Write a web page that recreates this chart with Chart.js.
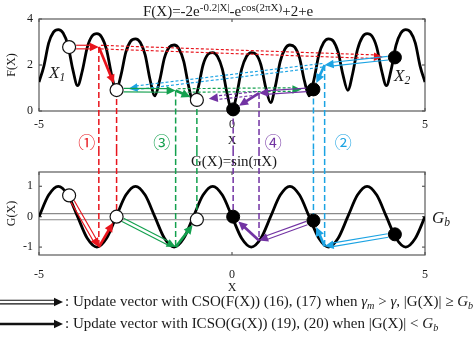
<!DOCTYPE html>
<html>
<head>
<meta charset="utf-8">
<script src="https://cdn.jsdelivr.net/npm/chart.js@4.4.1/dist/chart.umd.min.js"></script>
<style>
  body { margin: 0; background: #fff; }
  #wrap { position: relative; width: 474px; height: 338px; overflow: hidden; font-family: 'Liberation Serif', serif; color: #1a1a1a; }
  canvas { position: absolute; left: 0; }
  #topCv { top: 0; }
  #botCv { top: 150px; }
  .txt { position: absolute; white-space: nowrap; line-height: 1; }
  .txt sup { font-size: 11px; vertical-align: 0.5em; line-height: 0; }
  .txt sub { font-size: 0.68em; vertical-align: -0.3em; line-height: 0; }
  .m { font-style: italic; }
</style>
</head>
<body>
<div id="wrap">
  <canvas id="topCv" width="474" height="150"></canvas>
  <canvas id="botCv" width="474" height="188"></canvas>
  <div class="txt" style="left:143px;top:4px;font-size:15px">F(X)=-2e<sup>-0.2|X|</sup>-e<sup>cos(2πX)</sup>+2+e</div>
  <div class="txt m" style="left:49px;top:64px;font-size:17px">X<sub>1</sub></div>
  <div class="txt m" style="left:394px;top:67px;font-size:17px">X<sub>2</sub></div>
  <div class="txt" style="left:191px;top:154px;font-size:15px">G(X)=sin(πX)</div>
  <div class="txt m" style="left:432px;top:209px;font-size:17px">G<sub>b</sub></div>
  <div class="txt" style="left:65px;top:294px;font-size:15px">: Update vector with CSO(F(X)) (16), (17) when <span class="m">γ<sub>m</sub></span> &gt; <span class="m">γ</span>, |G(X)| ≥ <span class="m">G<sub>b</sub></span></div>
  <div class="txt" style="left:65px;top:316px;font-size:15px">: Update vector with ICSO(G(X)) (19), (20) when |G(X)| &lt; <span class="m">G<sub>b</sub></span></div>
</div>
<script>
// --- curve samples ---
const fX = [-5, -4.875, -4.75, -4.625, -4.5, -4.375, -4.25, -4.125, -4, -3.875, -3.75, -3.625, -3.5, -3.375, -3.25, -3.125,
  -3, -2.875, -2.75, -2.625, -2.5, -2.375, -2.25, -2.125, -2, -1.875, -1.75, -1.625, -1.5, -1.375, -1.25, -1.125,
  -1, -0.875, -0.75, -0.625, -0.5, -0.375, -0.25, -0.125, 0, 0.125, 0.25, 0.375, 0.5, 0.625, 0.75, 0.875,
  1, 1.125, 1.25, 1.375, 1.5, 1.625, 1.75, 1.875, 2, 2.125, 2.25, 2.375, 2.5, 2.625, 2.75, 2.875,
  3, 3.125, 3.25, 3.375, 3.5, 3.625, 3.75, 3.875, 4, 4.125, 4.25, 4.375, 4.5, 4.625, 4.75, 4.875, 5];
const fY = [1.26, 1.94, 2.95, 3.43, 3.54, 3.39, 2.86, 1.81, 1.10, 1.77, 2.77, 3.26, 3.36, 3.21, 2.67, 1.62,
  0.90, 1.57, 2.56, 3.04, 3.14, 2.98, 2.44, 1.38, 0.66, 1.32, 2.31, 2.78, 2.87, 2.71, 2.16, 1.09,
  0.36, 1.01, 2.00, 2.46, 2.54, 2.37, 1.82, 0.74, 0.00, 0.74, 1.82, 2.37, 2.54, 2.46, 2.00, 1.01,
  0.36, 1.09, 2.16, 2.71, 2.87, 2.78, 2.31, 1.32, 0.66, 1.38, 2.44, 2.98, 3.14, 3.04, 2.56, 1.57,
  0.90, 1.62, 2.67, 3.21, 3.36, 3.26, 2.77, 1.77, 1.10, 1.81, 2.86, 3.39, 3.54, 3.43, 2.95, 1.94, 1.26];

const gX = [-5, -4.75, -4.5, -4.25, -4, -3.75, -3.5, -3.25, -3, -2.75, -2.5, -2.25, -2, -1.75, -1.5, -1.25,
  -1, -0.75, -0.5, -0.25, 0, 0.25, 0.5, 0.75, 1, 1.25, 1.5, 1.75, 2, 2.25, 2.5, 2.75, 3, 3.25, 3.5, 3.75,
  4, 4.25, 4.5, 4.75, 5];
const gY = [0, 0.71, 1, 0.71, 0, -0.71, -1, -0.71, 0, 0.71, 1, 0.71, 0, -0.71, -1, -0.71,
  0, 0.71, 1, 0.71, 0, -0.71, -1, -0.71, 0, 0.71, 1, 0.71, 0, -0.71, -1, -0.71, 0, 0.71, 1, 0.71,
  0, -0.71, -1, -0.71, 0];
const gbLevels = [0.1, -0.1];

// --- search agents (open = before, filled = after) ---
const openX = [-4.22, -2.99, -0.91];
const openF = [2.78, 0.91, 0.48];
const openG = [0.70, 0.00, -0.09];
const solidX = [0.03, 2.11, 4.22];
const solidF = [0.07, 0.94, 2.33];
const solidG = [0.00, -0.13, -0.58];

// --- update steps: start -> mid (CSO) -> end (ICSO), plus the dotted link in F panel ---
const stepColors = ['#e8141c', '#13a04e', '#7233a3', '#1ba3e3'];
const stepLabels = ['①', '③', '④', '②'];
const stepLabelX = [-3.76, -1.82, 1.07, 2.88];
const startX = [-4.22, -2.99, 2.11, 4.22];
const startF = [2.78, 0.91, 0.94, 2.33];
const startG = [0.70, 0.00, -0.13, -0.58];
const midX = [-3.45, -1.46, 0.70, 2.40];
const midF = [2.78, 0.89, 0.78, 2.00];
const midG = [-1.00, -1.00, -0.78, -0.97];
const endX = [-2.99, -0.91, 0.03, 2.11];
const endF = [0.91, 0.48, 0.07, 0.94];
const endG = [0.00, -0.09, 0.00, -0.13];
const linkX = [4.22, 2.11, -0.91, -2.99];
const linkF = [2.33, 0.94, 0.48, 0.91];

const SERIF = "'Liberation Serif', serif";
Chart.defaults.font.family = SERIF;
Chart.defaults.color = '#1a1a1a';

function pts(xs, ys) { return xs.map((x, i) => ({ x, y: ys[i] })); }

function seg(ctx, x1, y1, x2, y2) {
  ctx.beginPath(); ctx.moveTo(x1, y1); ctx.lineTo(x2, y2); ctx.stroke();
}

// kind: 'solid' | 'double' | 'dotted'
function drawArrow(ctx, p, q, color, kind, cut0, cut1) {
  let [x1, y1] = p, [x2, y2] = q;
  const d = Math.hypot(x2 - x1, y2 - y1);
  if (d < 1) return;
  const ux = (x2 - x1) / d, uy = (y2 - y1) / d;
  x1 += ux * cut0; y1 += uy * cut0; x2 -= ux * cut1; y2 -= uy * cut1;
  const hl = 9, hw = 4.3;
  const sx = x2 - ux * hl * 0.7, sy = y2 - uy * hl * 0.7;
  ctx.save();
  ctx.strokeStyle = color;
  if (kind === 'solid') {
    ctx.lineWidth = 2.7;
    seg(ctx, x1, y1, sx, sy);
  } else {
    const nx = -uy * 1.8, ny = ux * 1.8;
    ctx.lineWidth = 1.15;
    if (kind === 'dotted') ctx.setLineDash([3, 2]);
    seg(ctx, x1 + nx, y1 + ny, sx + nx, sy + ny);
    seg(ctx, x1 - nx, y1 - ny, sx - nx, sy - ny);
  }
  ctx.setLineDash([]);
  ctx.fillStyle = color;
  ctx.beginPath();
  ctx.moveTo(x2, y2);
  ctx.lineTo(x2 - ux * hl - uy * hw, y2 - uy * hl + ux * hw);
  ctx.lineTo(x2 - ux * hl + uy * hw, y2 - uy * hl - ux * hw);
  ctx.closePath();
  ctx.fill();
  ctx.restore();
}

function dropLine(ctx, x, yA, yB, color) {
  ctx.save();
  ctx.strokeStyle = color; ctx.lineWidth = 1.5; ctx.setLineDash([6, 3]);
  seg(ctx, x, yA, x, yB);
  ctx.restore();
}

// box round the plot with small inward ticks
const framePlugin = {
  id: 'frame',
  beforeDatasetsDraw(chart) {
    const { ctx, chartArea: a, scales: { x, y } } = chart;
    ctx.save();
    ctx.strokeStyle = '#5a5a5a'; ctx.lineWidth = 1.2;
    ctx.strokeRect(a.left, a.top, a.right - a.left, a.bottom - a.top);
    x.ticks.forEach(t => {
      const p = x.getPixelForValue(t.value);
      seg(ctx, p, a.bottom, p, a.bottom - 3); seg(ctx, p, a.top, p, a.top + 3);
    });
    y.ticks.forEach(t => {
      const p = y.getPixelForValue(t.value);
      seg(ctx, a.left, p, a.left + 3, p); seg(ctx, a.right, p, a.right - 3, p);
    });
    ctx.restore();
  }
};

const topSteps = {
  id: 'topSteps',
  afterDatasetDraw(chart, args) {
    if (args.index !== 0) return;
    const ctx = chart.ctx, sx = chart.scales.x, sy = chart.scales.y;
    const P = (x, y) => [sx.getPixelForValue(x), sy.getPixelForValue(y)];
    stepColors.forEach((c, i) => {
      dropLine(ctx, sx.getPixelForValue(midX[i]), sy.getPixelForValue(midF[i]), chart.height, c);
      dropLine(ctx, sx.getPixelForValue(endX[i]), sy.getPixelForValue(endF[i]), chart.height, c);
    });
    stepColors.forEach((c, i) => {
      drawArrow(ctx, P(midX[i], midF[i]), P(linkX[i], linkF[i]), c, 'dotted', 2, 12);
    });
    stepColors.forEach((c, i) => {
      drawArrow(ctx, P(startX[i], startF[i]), P(midX[i], midF[i]), c, 'double', 7, 0);
      drawArrow(ctx, P(midX[i], midF[i]), P(endX[i], endF[i]), c, 'solid', 0, 7);
    });
    ctx.save();
    ctx.font = "17px 'Noto Sans CJK JP', 'DejaVu Sans', sans-serif";
    ctx.textAlign = 'center'; ctx.textBaseline = 'middle';
    stepColors.forEach((c, i) => {
      ctx.fillStyle = c;
      ctx.fillText(stepLabels[i], sx.getPixelForValue(stepLabelX[i]), 143);
    });
    ctx.restore();
  }
};

const botSteps = {
  id: 'botSteps',
  afterDatasetDraw(chart, args) {
    if (args.index !== 0) return;
    const ctx = chart.ctx, sx = chart.scales.x, sy = chart.scales.y;
    const P = (x, y) => [sx.getPixelForValue(x), sy.getPixelForValue(y)];
    stepColors.forEach((c, i) => {
      dropLine(ctx, sx.getPixelForValue(midX[i]), 0, sy.getPixelForValue(midG[i]), c);
      dropLine(ctx, sx.getPixelForValue(endX[i]), 0, sy.getPixelForValue(endG[i]), c);
    });
    stepColors.forEach((c, i) => {
      drawArrow(ctx, P(startX[i], startG[i]), P(midX[i], midG[i]), c, 'double', 7, 0);
      drawArrow(ctx, P(midX[i], midG[i]), P(endX[i], endG[i]), c, 'solid', 0, 7);
    });
  },
  afterDraw(chart) {
    // key arrows under the plot
    const ctx = chart.ctx;
    drawArrow(ctx, [0, 152], [63, 152], '#111', 'double', 0, 0);
    drawArrow(ctx, [0, 174], [63, 174], '#111', 'solid', 0, 0);
  }
};

function xAxis(tickPad, titlePad, h) {
  return {
    type: 'linear', min: -5, max: 5,
    grid: { display: false, drawTicks: false },
    border: { display: false },
    ticks: { stepSize: 5, padding: tickPad, font: { size: 12 }, maxRotation: 0 },
    title: { display: true, text: 'X', font: { size: 12 }, padding: { top: 0, bottom: titlePad } },
    afterFit(s) { s.height = h; }
  };
}
function yAxis(label, opts) {
  return Object.assign({
    grid: { display: false, drawTicks: false },
    border: { display: false },
    title: { display: true, text: label, font: { size: 12 }, padding: { top: 5, bottom: 0 } },
    afterFit(s) { s.width = 39; }
  }, opts);
}

function markerSets(ys) {
  return [
    { type: 'scatter', data: pts(openX, ys[0]), pointRadius: 6.5, pointBackgroundColor: '#fff',
      pointBorderColor: '#111', pointBorderWidth: 1.2, clip: false, order: 1 },
    { type: 'scatter', data: pts(solidX, ys[1]), pointRadius: 6.5, pointBackgroundColor: '#000',
      pointBorderColor: '#000', pointBorderWidth: 1, clip: false, order: 1 }
  ];
}

const common = {
  responsive: false, maintainAspectRatio: false, animation: false, devicePixelRatio: 1,
  plugins: { legend: { display: false }, tooltip: { enabled: false } }
};

new Chart(document.getElementById('topCv'), {
  type: 'line',
  data: {
    datasets: [
      { data: pts(fX, fY), borderColor: '#000', borderWidth: 2.8, pointRadius: 0,
        cubicInterpolationMode: 'monotone', order: 3 },
      ...markerSets([openF, solidF])
    ]
  },
  options: Object.assign({}, common, {
    layout: { padding: { top: 19, right: 49, bottom: 0, left: 0 } },
    scales: {
      x: xAxis(7, 2, 39),
      y: yAxis('F(X)', { min: 0, max: 4, ticks: { stepSize: 2, padding: 6, font: { size: 12 } } })
    }
  }),
  plugins: [framePlugin, topSteps]
});

new Chart(document.getElementById('botCv'), {
  type: 'line',
  data: {
    datasets: [
      { data: pts(gX, gY), borderColor: '#000', borderWidth: 2.8, pointRadius: 0,
        cubicInterpolationMode: 'monotone', order: 3 },
      ...gbLevels.map(v => ({ data: [{ x: -5, y: v }, { x: 5, y: v }], borderColor: '#8a8a8a',
        borderWidth: 1.2, pointRadius: 0, order: 4 })),
      ...markerSets([openG, solidG])
    ]
  },
  options: Object.assign({}, common, {
    layout: { padding: { top: 22, right: 49, bottom: 43, left: 0 } },
    scales: {
      x: xAxis(13, 0, 40),
      y: yAxis('G(X)', {
        min: -1.26, max: 1.47,
        ticks: { padding: 6, font: { size: 12 } },
        afterBuildTicks(s) { s.ticks = [-1, 0, 1].map(v => ({ value: v })); }
      })
    }
  }),
  plugins: [framePlugin, botSteps]
});
</script>
</body>
</html>
